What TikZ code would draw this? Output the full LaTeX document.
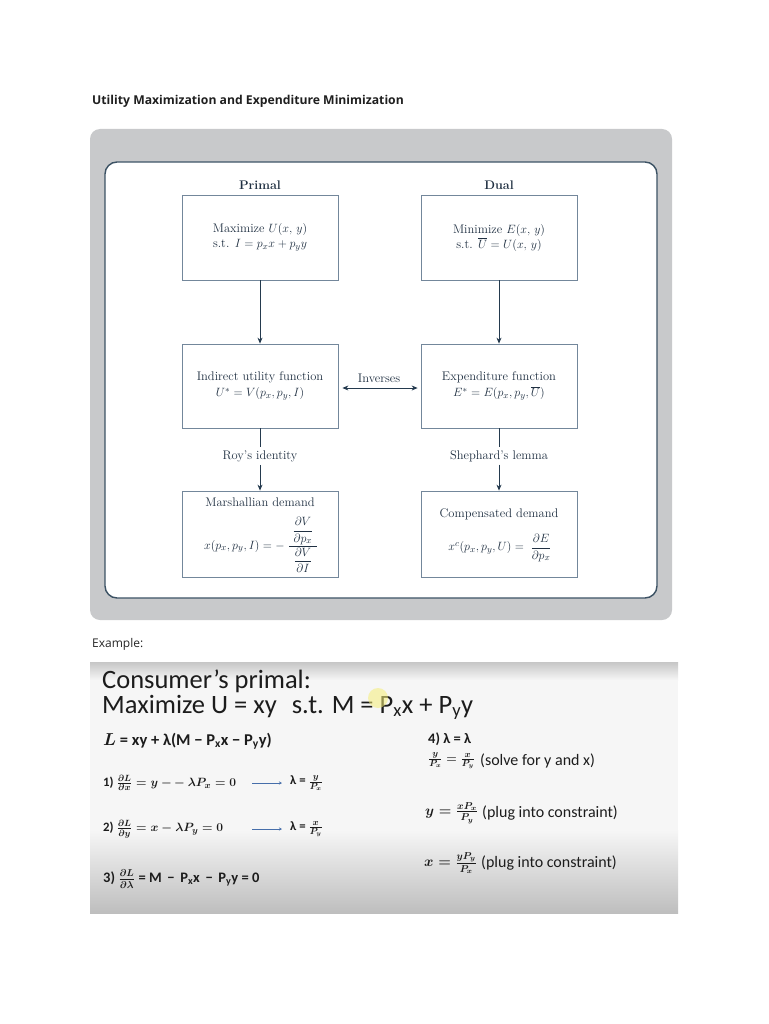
\documentclass[tikz,border=0pt]{standalone}
\usepackage{fontspec}
\usepackage{amsmath}
\usetikzlibrary{arrows.meta}
\newfontfamily\carl{Carlito}
\newfontfamily\osans{Open Sans}
\definecolor{panelgray}{RGB}{200,201,203}
\definecolor{frameblue}{RGB}{60,82,100}
\definecolor{boxline}{RGB}{115,135,155}
\definecolor{txt}{RGB}{32,48,66}
\definecolor{arrowc}{RGB}{36,58,78}
\definecolor{exgray}{RGB}{198,198,198}
\definecolor{exwhite}{RGB}{246,246,246}
\definecolor{extxt}{RGB}{28,28,28}
\definecolor{blueline}{RGB}{70,110,170}
\definecolor{hilite}{RGB}{245,238,120}
\begin{document}
\begin{tikzpicture}[x=1pt,y=-1pt,
  box/.style={draw=boxline, line width=0.8pt, minimum width=156pt, align=center, inner sep=2pt, text=txt, font=\fontsize{12.5}{15}\selectfont},
  lbl/.style={text=txt, font=\fontsize{12.5}{14}\selectfont, inner sep=3pt, anchor=base},
  head/.style={text=txt, font=\fontsize{12.5}{14}\selectfont\bfseries, anchor=base, inner sep=1pt},
  arr/.style={draw=arrowc, line width=0.8pt, -{Stealth[length=6pt,width=5pt]}},
  darr/.style={draw=arrowc, line width=0.8pt, {Stealth[length=6pt,width=5pt]}-{Stealth[length=6pt,width=5pt]}},
  seg/.style={draw=arrowc, line width=0.8pt},
  big/.style={text=extxt, anchor=base west, inner sep=0pt, font=\carl\fontsize{26.5}{26.5}\selectfont},
  exl/.style={text=extxt, anchor=base west, inner sep=0pt, font=\carl\bfseries\fontsize{16.5}{17}\selectfont\boldmath},
  exm/.style={text=extxt, anchor=west, inner sep=0pt, font=\carl\bfseries\fontsize{12.8}{14}\selectfont\boldmath},
  exn/.style={text=extxt, anchor=west, inner sep=0pt, font=\carl\fontsize{16}{16}\selectfont},
  blarr/.style={draw=blueline, line width=0.6pt, -{Stealth[length=3pt,width=3pt]}}
]
\useasboundingbox (0,0) rectangle (768,1024);
\fill[white] (0,0) rectangle (768,1024);

% title
\node[anchor=base west, inner sep=0pt, font=\osans\bfseries\fontsize{12.2}{13}\selectfont, text=black!88] (title) at (92,105) {Utility Maximization and Expenditure Minimization};

% diagram panel
\fill[panelgray, rounded corners=10pt] (90,129) rectangle (672,620);
\filldraw[fill=white, draw=frameblue, line width=1.4pt, rounded corners=12pt] (105,162) rectangle (657,598);

\node[head] (ph) at (260,190) {Primal};
\node[head] (dh) at (499,190) {Dual};

\node[box, minimum height=85pt] (p1) at (260,237.5) {Maximize $U(x,\,y)$\\ s.t. $I = p_x x + p_y y$};
\node[box, minimum height=85pt] (d1) at (499,237.5) {Minimize $E(x,\,y)$\\ s.t. $\overline{U} = U(x,\,y)$};

\node[box, minimum height=84pt] (p2) at (260,386) {Indirect utility function\\[1pt] $U^{*} = V(p_x, p_y, I)$};
\node[box, minimum height=84pt] (d2) at (499,386) {Expenditure function\\[1pt] $E^{*} = E(p_x, p_y, \overline{U})$};

\node[box, minimum height=86pt] (p3) at (260,534) {};
\node[box, minimum height=86pt] (d3) at (499,534) {};
\node[lbl] (p3t) at (260,506) {Marshallian demand};
\node[text=txt, font=\fontsize{12.5}{14}\selectfont, inner sep=0pt] (p3f) at (261,545) {$x(p_x, p_y, I) = -\;\dfrac{\;\dfrac{\partial V}{\partial p_x}\;}{\dfrac{\partial V}{\partial I}}$};
\node[lbl] (d3t) at (499,517) {Compensated demand};
\node[text=txt, font=\fontsize{12.5}{14}\selectfont, inner sep=0pt] (d3f) at (500,548) {$x^{c}(p_x, p_y, U) = \;\dfrac{\partial E}{\partial p_x}$};

\draw[arr] (p1.south) -- (p2.north);
\draw[arr] (d1.south) -- (d2.north);

\node[lbl] (inv) at (379,382) {Inverses};
\draw[darr] ([xshift=4pt,yshift=-2pt]p2.east) -- ([xshift=-3pt,yshift=-2pt]d2.west);

\node[lbl] (roy) at (260,459) {Roy's identity};
\node[lbl] (shep) at (499,459) {Shephard's lemma};
\draw[seg] (p2.south) -- (roy.north);
\draw[arr] (roy.south) -- (p3.north);
\draw[seg] (d2.south) -- (shep.north);
\draw[arr] (shep.south) -- (d3.north);

% example label
\node[anchor=base west, inner sep=0pt, font=\osans\fontsize{12}{12}\selectfont, text=black!85] (exlab) at (92,647) {Example:};

% example panel
\fill[exwhite] (90,662) rectangle (678,913);
\shade[top color=exgray, bottom color=exwhite] (90,662) rectangle (678,680);
\shade[top color=exwhite, bottom color=exgray!96!black] (90,830) rectangle (678,913);

\node[big] (c1) at (102,688) {Consumer’s primal:};
\node[big] (c2) at (102,713) {Maximize U = xy\hspace{15pt}s.t. M = P\textsubscript{x}x + P\textsubscript{y}y};
\fill[hilite, opacity=0.55] (378,698) circle (10pt);

\node[exl] (lag) at (103,745) {$L$ = xy + λ(M − P\textsubscript{x}x − P\textsubscript{y}y)};

\node[exm] (e1) at (103,783) {1) $\frac{\partial L}{\partial x} = y \mathbin{-\,-} \lambda P_x = 0$};
\node[exm] (l1) at (290,783) {λ = $\frac{y}{P_x}$};
\draw[blarr] ([xshift=-38pt]e1.east -| l1.west) -- ([xshift=-8pt]e1.east -| l1.west);

\node[exm] (e2) at (103,829) {2) $\frac{\partial L}{\partial y} = x - \lambda P_y = 0$};
\node[exm] (l2) at (290,829) {λ = $\frac{x}{P_y}$};
\draw[blarr] ([xshift=-38pt]e2.east -| l2.west) -- ([xshift=-8pt]e2.east -| l2.west);

\node[exm, font=\carl\bfseries\fontsize{14.5}{15}\selectfont\boldmath] (e3) at (103,879) {3) $\frac{\partial L}{\partial \lambda}$ = M \,−\, P\textsubscript{x}x \,−\, P\textsubscript{y}y = 0};

\node[exm, anchor=base west, font=\carl\bfseries\fontsize{14.5}{15}\selectfont] (r4) at (428,743) {4) λ = λ};
\node[exm] (r5) at (428,761) {$\frac{y}{P_x} = \frac{x}{P_y}$};
\node[exn] (r5t) at (480,761) {(solve for y and x)};
\node[exm, font=\carl\bfseries\fontsize{14}{15}\selectfont\boldmath] (r6) at (425,813) {$y = \frac{xP_x}{P_y}$};
\node[exn] (r6t) at (482,813) {(plug into constraint)};
\node[exm, font=\carl\bfseries\fontsize{14}{15}\selectfont\boldmath] (r7) at (424,863) {$x = \frac{yP_y}{P_x}$};
\node[exn] (r7t) at (481,863) {(plug into constraint)};
\end{tikzpicture}
\end{document}
